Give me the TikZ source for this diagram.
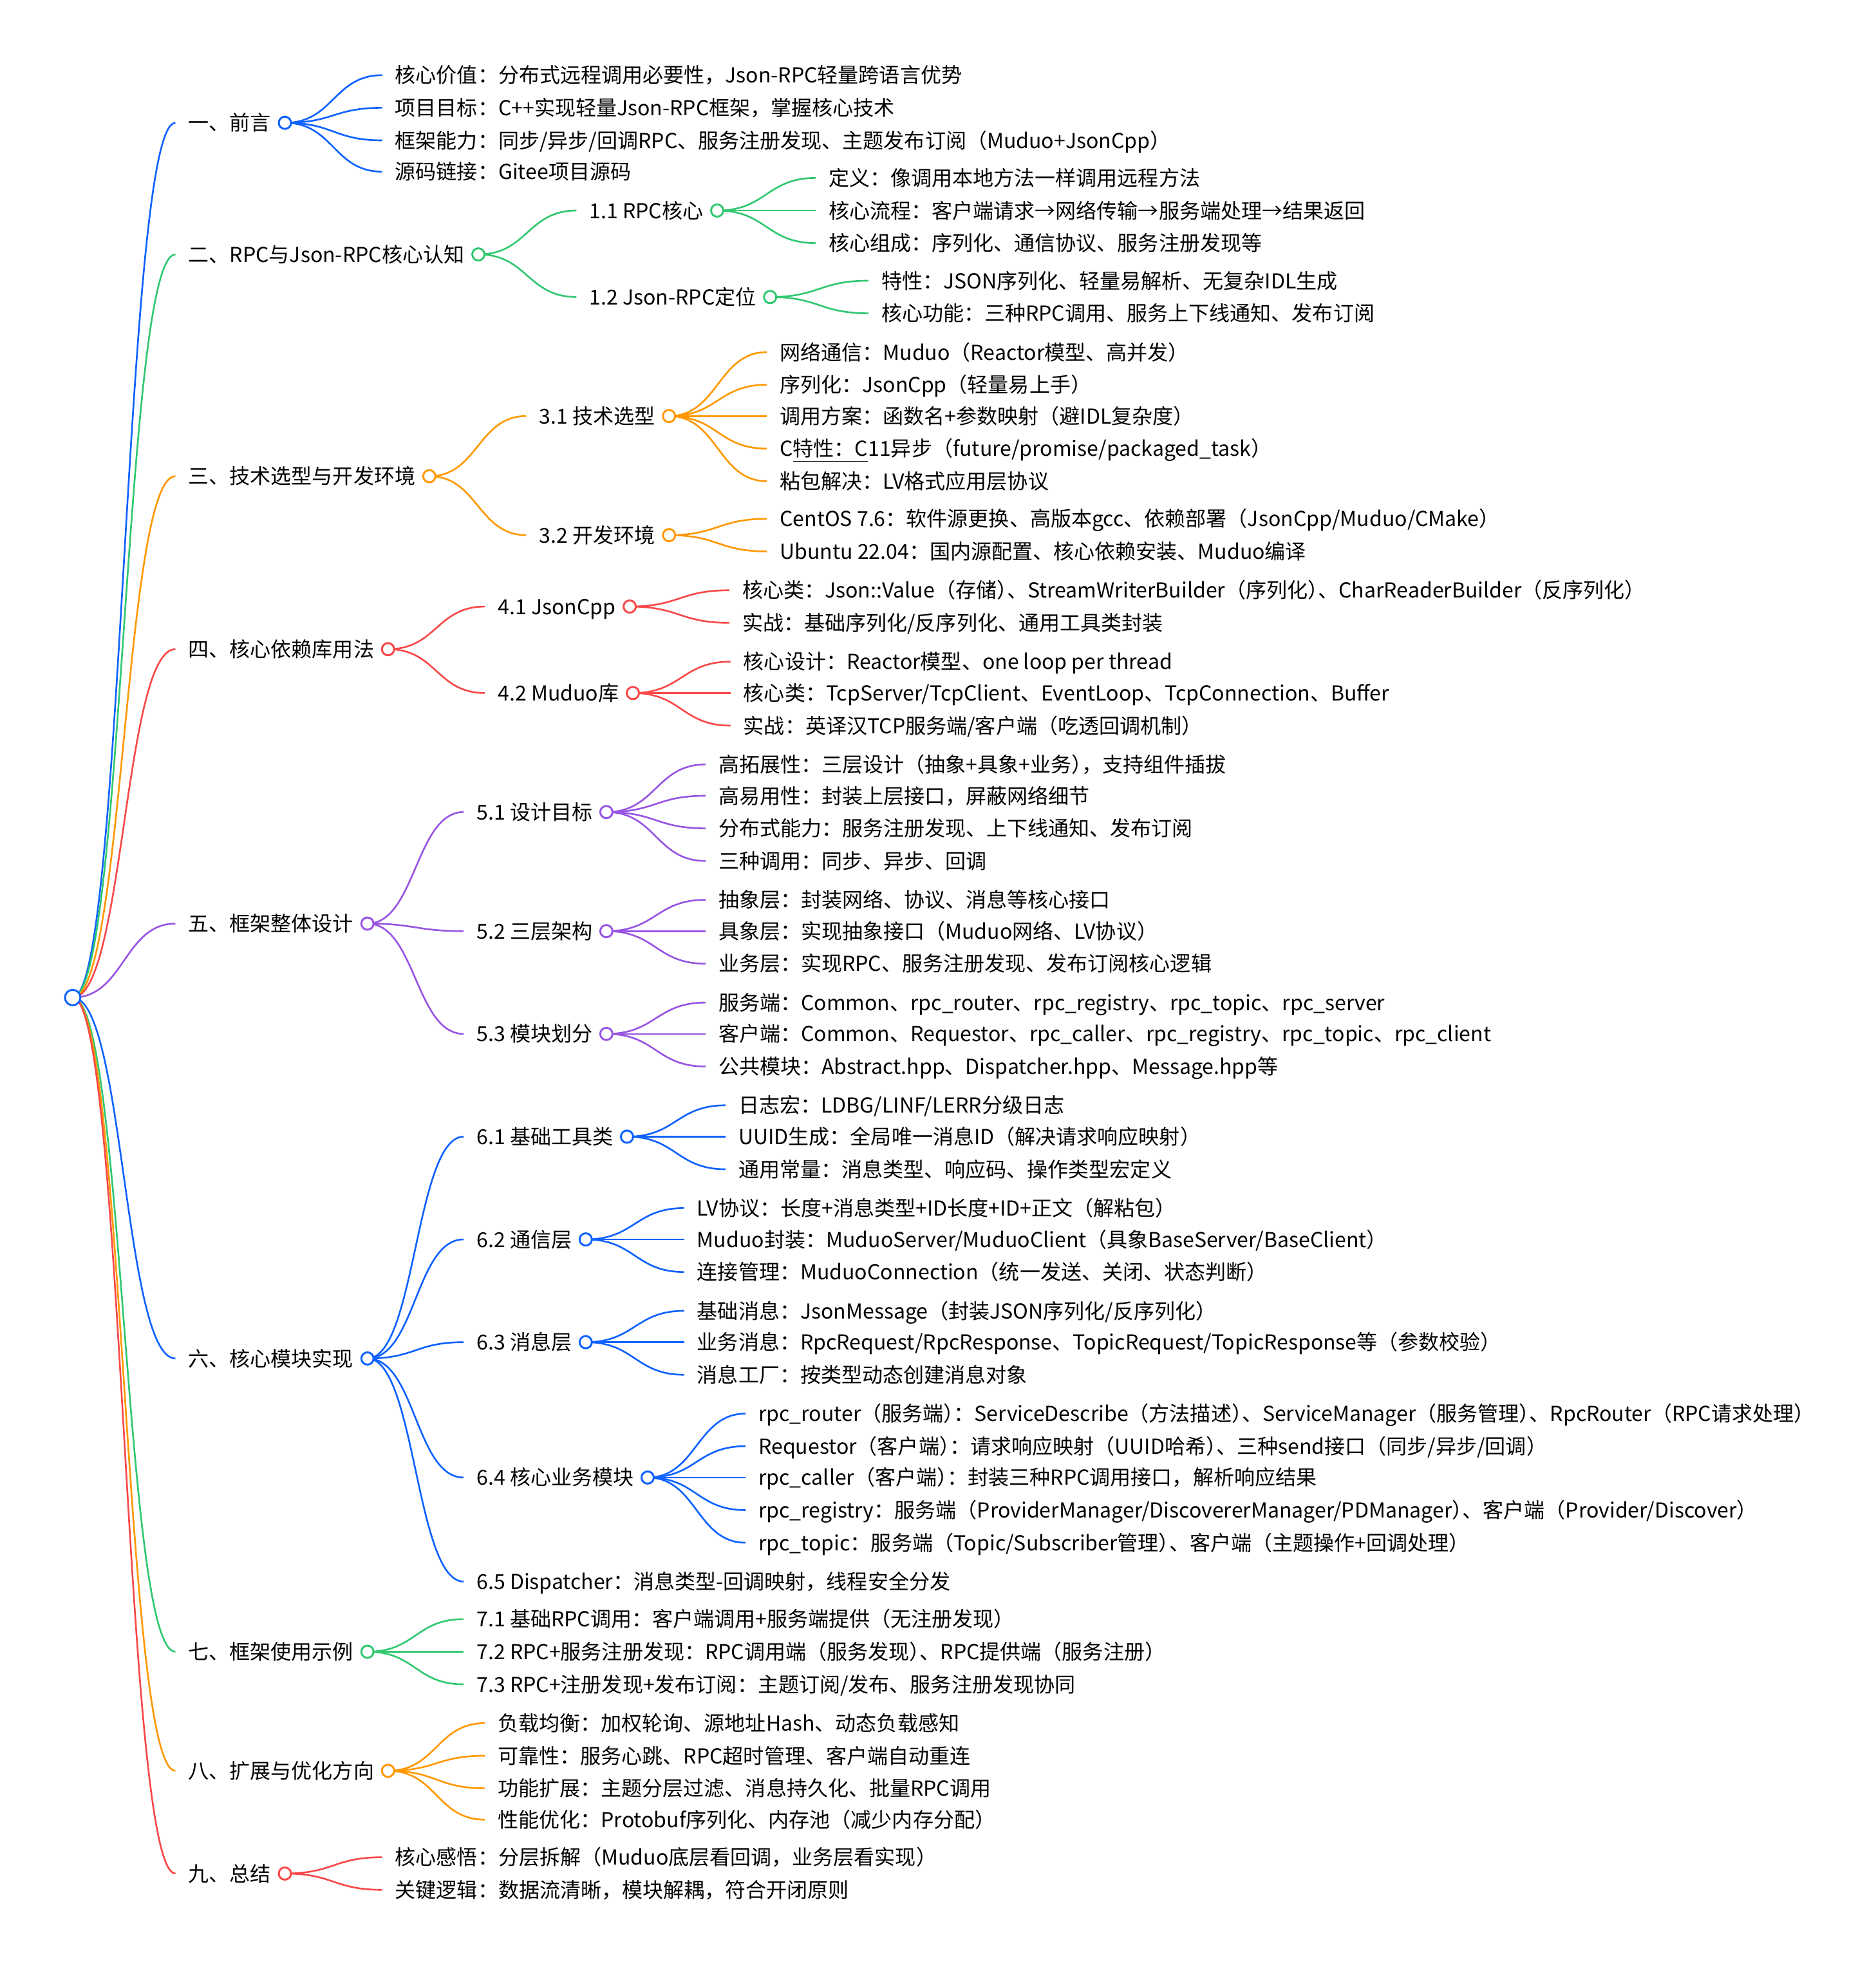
\documentclass[tikz,border=0pt]{standalone}
\usepackage{fontspec}
\setmainfont{Noto Sans CJK SC}
\usetikzlibrary{positioning, calc, backgrounds}
\definecolor{mmblue}{RGB}{15,98,255}
\definecolor{mmgreen}{RGB}{48,200,112}
\definecolor{mmorange}{RGB}{255,152,0}
\definecolor{mmred}{RGB}{248,72,72}
\definecolor{mmpurple}{RGB}{152,84,226}
\newcommand{\mmfont}{\fontsize{9.12pt}{11pt}\selectfont}
\newcommand{\pk}{\kern-0.5em}% trims a closing bracket before punctuation
% curved link from a circle to the left end of a label
\newcommand{\branch}[3]{%
  \draw[link, color=#1] let \p1=(#2.center), \p2=([xshift=-0.195cm]#3.west) in
    (\p1) .. controls ({0.5*\x1+0.5*\x2},\y1) and ({0.5*\x1+0.5*\x2},\y2) .. (\p2);}

\begin{document}
\begin{tikzpicture}[x=0.019466cm, y=-0.019466cm]
    \tikzset{
        lbl/.style={anchor=west, inner sep=0pt, text height=8pt, text depth=1.1pt, font=\mmfont},
        dot/.style={circle, draw=#1, fill=white, line width=0.85pt, inner sep=0pt, minimum size=0.19cm},
        link/.style={line width=0.75pt}
    }
    \useasboundingbox (0,0) rectangle (1497,1568);
    \node[dot=mmblue, minimum size=0.24cm] (root) at (58,796) {};

    % level 1
    \node[lbl] (pre)   at (150,98)   {一、前言};
    \node[lbl] (rpc)   at (150,203)  {二、RPC与Json-RPC核心认知};
    \node[lbl] (tech)  at (150,380)  {三、技术选型与开发环境};
    \node[lbl] (deps)  at (150,518)  {四、核心依赖库用法};
    \node[lbl] (arch)  at (150,737)  {五、框架整体设计};
    \node[lbl] (impl)  at (150,1084) {六、核心模块实现};
    \node[lbl] (usage) at (150,1318) {七、框架使用示例};
    \node[lbl] (ext)   at (150,1413) {八、扩展与优化方向};
    \node[lbl] (summ)  at (150,1495) {九、总结};
    \node[dot=mmblue,   right=0.1cm of pre]   (preD)   {};
    \node[dot=mmgreen,  right=0.1cm of rpc]   (rpcD)   {};
    \node[dot=mmorange, right=0.1cm of tech]  (techD)  {};
    \node[dot=mmred,    right=0.1cm of deps]  (depsD)  {};
    \node[dot=mmpurple, right=0.1cm of arch]  (archD)  {};
    \node[dot=mmblue,   right=0.1cm of impl]  (implD)  {};
    \node[dot=mmgreen,  right=0.1cm of usage] (usageD) {};
    \node[dot=mmorange, right=0.1cm of ext]   (extD)   {};
    \node[dot=mmred,    right=0.1cm of summ]  (summD)  {};

    % 一
    \node[lbl] (pre1) at (315,60)  {核心价值：分布式远程调用必要性，Json-RPC轻量跨语言优势};
    \node[lbl] (pre2) at (315,86)  {项目目标：C++实现轻量Json-RPC框架，掌握核心技术};
    \node[lbl] (pre3) at (315,112) {框架能力：同步/异步/回调RPC、服务注册发现、主题发布订阅（Muduo+JsonCpp）};
    \node[lbl] (pre4) at (315,137) {源码链接：Gitee项目源码};

    % 二
    \node[lbl] (rpcA) at (470,168) {1.1 RPC核心};
    \node[lbl] (rpcB) at (470,237) {1.2 Json-RPC定位};
    \node[dot=mmgreen, right=0.1cm of rpcA] (rpcAD) {};
    \node[dot=mmgreen, right=0.1cm of rpcB] (rpcBD) {};
    \node[lbl] (rpcA1) at (661,142) {定义：像调用本地方法一样调用远程方法};
    \node[lbl] (rpcA2) at (661,168) {核心流程：客户端请求→网络传输→服务端处理→结果返回};
    \node[lbl] (rpcA3) at (661,194) {核心组成：序列化、通信协议、服务注册发现等};
    \node[lbl] (rpcB1) at (703,224) {特性：JSON序列化、轻量易解析、无复杂IDL生成};
    \node[lbl] (rpcB2) at (703,250) {核心功能：三种RPC调用、服务上下线通知、发布订阅};

    % 三
    \node[lbl] (techA) at (430,332) {3.1 技术选型};
    \node[lbl] (techB) at (430,427) {3.2 开发环境};
    \node[dot=mmorange, right=0.1cm of techA] (techAD) {};
    \node[dot=mmorange, right=0.1cm of techB] (techBD) {};
    \node[lbl] (techA1) at (622,281) {网络通信：Muduo（Reactor模型、高并发）};
    \node[lbl] (techA2) at (622,307) {序列化：JsonCpp（轻量易上手）};
    \node[lbl] (techA3) at (622,332) {调用方案：函数名+参数映射（避IDL复杂度）};
    \node[lbl] (techA4) at (622,358) {C\underline{特性：C}11异步（future/promise/packaged\_task）};
    \node[lbl] (techA5) at (622,384) {粘包解决：LV格式应用层协议};
    \node[lbl] (techB1) at (622,414) {CentOS 7.6：软件源更换、高版本gcc、依赖部署（JsonCpp/Muduo/CMake）};
    \node[lbl] (techB2) at (622,440) {Ubuntu 22.04：国内源配置、核心依赖安装、Muduo编译};

    % 四
    \node[lbl] (depsA) at (397,484) {4.1 JsonCpp};
    \node[lbl] (depsB) at (397,553) {4.2 Muduo库};
    \node[dot=mmred, right=0.1cm of depsA] (depsAD) {};
    \node[dot=mmred, right=0.1cm of depsB] (depsBD) {};
    \node[lbl] (depsA1) at (592,471) {核心类：Json::Value（存储）\pk、StreamWriterBuilder（序列化）\pk、CharReaderBuilder（反序列化）};
    \node[lbl] (depsA2) at (592,497) {实战：基础序列化/反序列化、通用工具类封装};
    \node[lbl] (depsB1) at (593,528) {核心设计：Reactor模型、one loop per thread};
    \node[lbl] (depsB2) at (593,553) {核心类：TcpServer/TcpClient、EventLoop、TcpConnection、Buffer};
    \node[lbl] (depsB3) at (593,579) {实战：英译汉TCP服务端/客户端（吃透回调机制）};

    % 五
    \node[lbl] (archA) at (380,648) {5.1 设计目标};
    \node[lbl] (archB) at (380,743) {5.2 三层架构};
    \node[lbl] (archC) at (380,825) {5.3 模块划分};
    \node[dot=mmpurple, right=0.1cm of archA] (archAD) {};
    \node[dot=mmpurple, right=0.1cm of archB] (archBD) {};
    \node[dot=mmpurple, right=0.1cm of archC] (archCD) {};
    \node[lbl] (archA1) at (573,610) {高拓展性：三层设计（抽象+具象+业务）\pk，支持组件插拔};
    \node[lbl] (archA2) at (573,635) {高易用性：封装上层接口，屏蔽网络细节};
    \node[lbl] (archA3) at (573,661) {分布式能力：服务注册发现、上下线通知、发布订阅};
    \node[lbl] (archA4) at (573,687) {三种调用：同步、异步、回调};
    \node[lbl] (archB1) at (573,718) {抽象层：封装网络、协议、消息等核心接口};
    \node[lbl] (archB2) at (573,743) {具象层：实现抽象接口（Muduo网络、LV协议）};
    \node[lbl] (archB3) at (573,769) {业务层：实现RPC、服务注册发现、发布订阅核心逻辑};
    \node[lbl] (archC1) at (573,800) {服务端：Common、rpc\_router、rpc\_registry、rpc\_topic、rpc\_server};
    \node[lbl] (archC2) at (573,825) {客户端：Common、Requestor、rpc\_caller、rpc\_registry、rpc\_topic、rpc\_client};
    \node[lbl] (archC3) at (573,851) {公共模块：Abstract.hpp、Dispatcher.hpp、Message.hpp等};

    % 六
    \node[lbl] (implA) at (380,907)  {6.1 基础工具类};
    \node[lbl] (implB) at (380,989)  {6.2 通信层};
    \node[lbl] (implC) at (380,1071) {6.3 消息层};
    \node[lbl] (implE) at (380,1179) {6.4 核心业务模块};
    \node[lbl] (implF) at (380,1262) {6.5 Dispatcher：消息类型-回调映射，线程安全分发};
    \node[dot=mmblue, right=0.1cm of implA] (implAD) {};
    \node[dot=mmblue, right=0.1cm of implB] (implBD) {};
    \node[dot=mmblue, right=0.1cm of implC] (implCD) {};
    \node[dot=mmblue, right=0.1cm of implE] (implED) {};
    \node[lbl] (implA1) at (589,882) {日志宏：LDBG/LINF/LERR分级日志};
    \node[lbl] (implA2) at (589,907) {UUID生成：全局唯一消息ID（解决请求响应映射）};
    \node[lbl] (implA3) at (589,933) {通用常量：消息类型、响应码、操作类型宏定义};
    \node[lbl] (implB1) at (556,964)  {LV协议：长度+消息类型+ID长度+ID+正文（解粘包）};
    \node[lbl] (implB2) at (556,989)  {Muduo封装：MuduoServer/MuduoClient（具象BaseServer/BaseClient）};
    \node[lbl] (implB3) at (556,1015) {连接管理：MuduoConnection（统一发送、关闭、状态判断）};
    \node[lbl] (implC1) at (556,1046) {基础消息：JsonMessage（封装JSON序列化/反序列化）};
    \node[lbl] (implC2) at (556,1071) {业务消息：RpcRequest/RpcResponse、TopicRequest/TopicResponse等（参数校验）};
    \node[lbl] (implC3) at (556,1097) {消息工厂：按类型动态创建消息对象};
    \node[lbl] (implE1) at (605,1128) {rpc\_router（服务端）\pk：ServiceDescribe（方法描述）\pk、ServiceManager（服务管理）\pk、RpcRouter（RPC请求处理）};
    \node[lbl] (implE2) at (605,1154) {Requestor（客户端）\pk：请求响应映射（UUID哈希）\pk、三种send接口（同步/异步/回调）};
    \node[lbl] (implE3) at (605,1179) {rpc\_caller（客户端）\pk：封装三种RPC调用接口，解析响应结果};
    \node[lbl] (implE4) at (605,1205) {rpc\_registry：服务端（ProviderManager/DiscovererManager/PDManager）\pk、客户端（Provider/Discover）};
    \node[lbl] (implE5) at (605,1231) {rpc\_topic：服务端（Topic/Subscriber管理）\pk、客户端（主题操作+回调处理）};

    % 七
    \node[lbl] (usage1) at (380,1292) {7.1 基础RPC调用：客户端调用+服务端提供（无注册发现）};
    \node[lbl] (usage2) at (380,1318) {7.2 RPC+服务注册发现：RPC调用端（服务发现）\pk、RPC提供端（服务注册）};
    \node[lbl] (usage3) at (380,1344) {7.3 RPC+注册发现+发布订阅：主题订阅/发布、服务注册发现协同};

    % 八
    \node[lbl] (ext1) at (397,1375) {负载均衡：加权轮询、源地址Hash、动态负载感知};
    \node[lbl] (ext2) at (397,1401) {可靠性：服务心跳、RPC超时管理、客户端自动重连};
    \node[lbl] (ext3) at (397,1427) {功能扩展：主题分层过滤、消息持久化、批量RPC调用};
    \node[lbl] (ext4) at (397,1452) {性能优化：Protobuf序列化、内存池（减少内存分配）};

    % 九
    \node[lbl] (summ1) at (315,1482) {核心感悟：分层拆解（Muduo底层看回调，业务层看实现）};
    \node[lbl] (summ2) at (315,1508) {关键逻辑：数据流清晰，模块解耦，符合开闭原则};

    % links
    \begin{scope}[on background layer]
        \branch{mmblue}{root}{pre}
        \branch{mmgreen}{root}{rpc}
        \branch{mmorange}{root}{tech}
        \branch{mmred}{root}{deps}
        \branch{mmpurple}{root}{arch}
        \branch{mmblue}{root}{impl}
        \branch{mmgreen}{root}{usage}
        \branch{mmorange}{root}{ext}
        \branch{mmred}{root}{summ}
        \foreach \k in {pre1,pre2,pre3,pre4} {\branch{mmblue}{preD}{\k}}
        \foreach \k in {rpcA,rpcB} {\branch{mmgreen}{rpcD}{\k}}
        \foreach \k in {rpcA1,rpcA2,rpcA3} {\branch{mmgreen}{rpcAD}{\k}}
        \foreach \k in {rpcB1,rpcB2} {\branch{mmgreen}{rpcBD}{\k}}
        \foreach \k in {techA,techB} {\branch{mmorange}{techD}{\k}}
        \foreach \k in {techA1,techA2,techA3,techA4,techA5} {\branch{mmorange}{techAD}{\k}}
        \foreach \k in {techB1,techB2} {\branch{mmorange}{techBD}{\k}}
        \foreach \k in {depsA,depsB} {\branch{mmred}{depsD}{\k}}
        \foreach \k in {depsA1,depsA2} {\branch{mmred}{depsAD}{\k}}
        \foreach \k in {depsB1,depsB2,depsB3} {\branch{mmred}{depsBD}{\k}}
        \foreach \k in {archA,archB,archC} {\branch{mmpurple}{archD}{\k}}
        \foreach \k in {archA1,archA2,archA3,archA4} {\branch{mmpurple}{archAD}{\k}}
        \foreach \k in {archB1,archB2,archB3} {\branch{mmpurple}{archBD}{\k}}
        \foreach \k in {archC1,archC2,archC3} {\branch{mmpurple}{archCD}{\k}}
        \foreach \k in {implA,implB,implC,implE,implF} {\branch{mmblue}{implD}{\k}}
        \foreach \k in {implA1,implA2,implA3} {\branch{mmblue}{implAD}{\k}}
        \foreach \k in {implB1,implB2,implB3} {\branch{mmblue}{implBD}{\k}}
        \foreach \k in {implC1,implC2,implC3} {\branch{mmblue}{implCD}{\k}}
        \foreach \k in {implE1,implE2,implE3,implE4,implE5} {\branch{mmblue}{implED}{\k}}
        \foreach \k in {usage1,usage2,usage3} {\branch{mmgreen}{usageD}{\k}}
        \foreach \k in {ext1,ext2,ext3,ext4} {\branch{mmorange}{extD}{\k}}
        \foreach \k in {summ1,summ2} {\branch{mmred}{summD}{\k}}
    \end{scope}
\end{tikzpicture}
\end{document}
